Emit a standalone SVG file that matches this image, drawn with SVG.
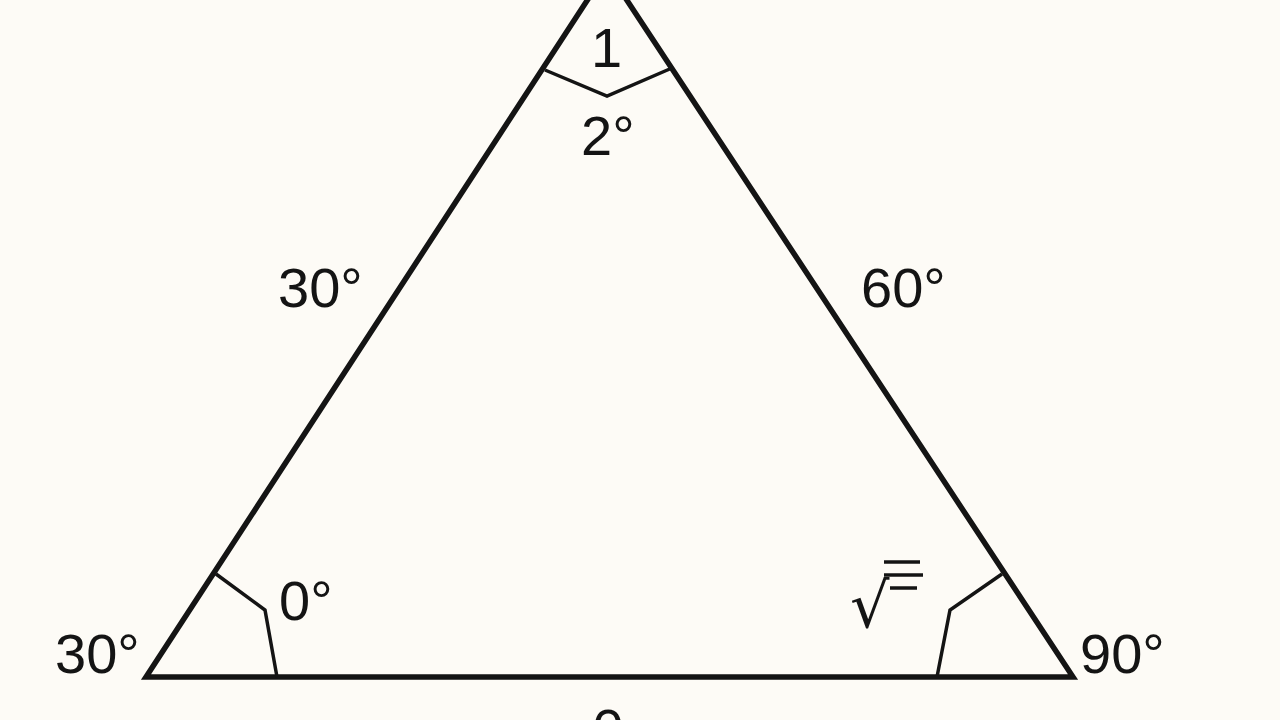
<svg xmlns="http://www.w3.org/2000/svg" width="1280" height="720" viewBox="0 0 1280 720">
<style>
.edge{fill:none;stroke:#141414;stroke-width:5.5;stroke-linejoin:miter;stroke-miterlimit:20}
.mark{fill:none;stroke:#141414;stroke-width:3.5;stroke-linejoin:miter}
.lbl{font-family:"Liberation Sans",Arial,sans-serif;font-size:56px;fill:#141414}
</style>
<rect width="1280" height="720" fill="#fdfbf6"/>
<g id="connectors">
<polygon class="edge" points="607,-30 1073,677 146,677"/>
</g>
<g id="angle-top">
<polyline class="mark" points="545,70 607,96 672,68"/>
<text class="lbl" x="591" y="67">1</text>
<text class="lbl" x="581" y="155">2°</text>
</g>
<g id="angle-left">
<polyline class="mark" points="216,574 265,610 277,677"/>
<text class="lbl" x="279" y="620">0°</text>
<text class="lbl" x="55" y="673">30°</text>
</g>
<g id="angle-right">
<polyline class="mark" points="1002,574 950,610 937,677"/>
<text class="lbl" x="850" y="627" style="font-family:'DejaVu Sans',sans-serif;font-size:62px">√</text>
<line class="mark" x1="884" y1="562" x2="920" y2="562"/>
<line class="mark" x1="884" y1="575" x2="923" y2="575"/>
<line class="mark" x1="890" y1="588" x2="917" y2="588"/>
<text class="lbl" x="1080" y="673">90°</text>
</g>
<g id="side-labels">
<text class="lbl" x="278" y="307">30°</text>
<text class="lbl" x="861" y="307">60°</text>
<text class="lbl" x="608" y="748" text-anchor="middle">0</text>
</g>
</svg>
